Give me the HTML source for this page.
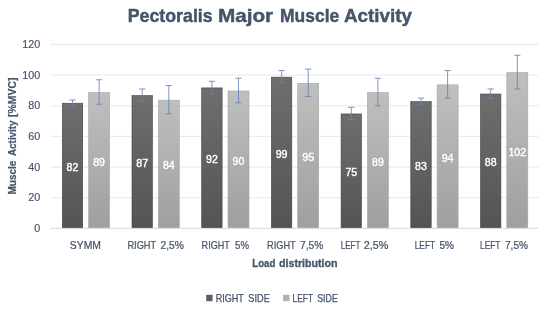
<!DOCTYPE html>
<html lang="en"><head><meta charset="utf-8"><title>Pectoralis Major Muscle Activity</title>
<style>html,body{margin:0;padding:0;background:#fff;}body{width:550px;height:309px;overflow:hidden;}svg{display:block;}text{font-family:"Liberation Sans",sans-serif;}</style>
</head><body>
<svg width="550" height="309" viewBox="0 0 550 309">
<defs>
<linearGradient id="gd" x1="0" y1="0" x2="0" y2="1"><stop offset="0" stop-color="#6e6e6e"/><stop offset="1" stop-color="#545454"/></linearGradient>
<linearGradient id="gl" x1="0" y1="0" x2="0" y2="1"><stop offset="0" stop-color="#bfbfbf"/><stop offset="1" stop-color="#9f9f9f"/></linearGradient>
</defs>
<rect width="550" height="309" fill="#ffffff"/>
<line x1="50.5" x2="538.5" y1="197.71" y2="197.71" stroke="#e9ecf3" stroke-width="1.3"/>
<line x1="50.5" x2="538.5" y1="167.07" y2="167.07" stroke="#e9ecf3" stroke-width="1.3"/>
<line x1="50.5" x2="538.5" y1="136.43" y2="136.43" stroke="#e9ecf3" stroke-width="1.3"/>
<line x1="50.5" x2="538.5" y1="105.79" y2="105.79" stroke="#e9ecf3" stroke-width="1.3"/>
<line x1="50.5" x2="538.5" y1="75.15" y2="75.15" stroke="#e9ecf3" stroke-width="1.3"/>
<line x1="50.5" x2="538.5" y1="44.51" y2="44.51" stroke="#e9ecf3" stroke-width="1.3"/>
<line x1="50.5" x2="538.5" y1="228.35" y2="228.35" stroke="#dddddd" stroke-width="1.1"/>
<text x="127.69999999999999" y="21.8" font-size="18.6" font-weight="bold" fill="#44546a" stroke="#44546a" stroke-width="0.45" textLength="85.0" lengthAdjust="spacingAndGlyphs">Pectoralis</text>
<text x="217.9" y="21.8" font-size="18.6" font-weight="bold" fill="#44546a" stroke="#44546a" stroke-width="0.45" textLength="55.3" lengthAdjust="spacingAndGlyphs">Major</text>
<text x="280.0" y="21.8" font-size="18.6" font-weight="bold" fill="#44546a" stroke="#44546a" stroke-width="0.45" textLength="59.2" lengthAdjust="spacingAndGlyphs">Muscle</text>
<text x="344.0" y="21.8" font-size="18.6" font-weight="bold" fill="#44546a" stroke="#44546a" stroke-width="0.45" textLength="67.9" lengthAdjust="spacingAndGlyphs">Activity</text>
<text x="34.2" y="232.05" font-size="10.2" fill="#44546a" stroke="#44546a" stroke-width="0.15" textLength="6.0" lengthAdjust="spacingAndGlyphs">0</text>
<text x="28.2" y="201.41" font-size="10.2" fill="#44546a" stroke="#44546a" stroke-width="0.15" textLength="12.0" lengthAdjust="spacingAndGlyphs">20</text>
<text x="28.2" y="170.77" font-size="10.2" fill="#44546a" stroke="#44546a" stroke-width="0.15" textLength="12.0" lengthAdjust="spacingAndGlyphs">40</text>
<text x="28.2" y="140.13" font-size="10.2" fill="#44546a" stroke="#44546a" stroke-width="0.15" textLength="12.0" lengthAdjust="spacingAndGlyphs">60</text>
<text x="28.2" y="109.49" font-size="10.2" fill="#44546a" stroke="#44546a" stroke-width="0.15" textLength="12.0" lengthAdjust="spacingAndGlyphs">80</text>
<text x="22.2" y="78.85" font-size="10.2" fill="#44546a" stroke="#44546a" stroke-width="0.15" textLength="18.0" lengthAdjust="spacingAndGlyphs">100</text>
<text x="22.2" y="48.21" font-size="10.2" fill="#44546a" stroke="#44546a" stroke-width="0.15" textLength="18.0" lengthAdjust="spacingAndGlyphs">120</text>
<text transform="translate(15.7,194.5) rotate(-90)" font-size="11.3" font-weight="bold" fill="#44546a" stroke="#44546a" stroke-width="0.2" textLength="33.8" lengthAdjust="spacingAndGlyphs">Muscle</text>
<text transform="translate(15.7,156.0) rotate(-90)" font-size="11.3" font-weight="bold" fill="#44546a" stroke="#44546a" stroke-width="0.2" textLength="35.6" lengthAdjust="spacingAndGlyphs">Activity</text>
<text transform="translate(15.7,117.0) rotate(-90)" font-size="11.3" font-weight="bold" fill="#44546a" stroke="#44546a" stroke-width="0.2" textLength="39.4" lengthAdjust="spacingAndGlyphs">[%MVC]</text>
<rect x="62.30" y="103.23" width="20.40" height="124.42" fill="url(#gd)" stroke="#404040" stroke-width="0.6"/>
<path d="M72.50 99.97V105.48M69.40 99.97h6.2M69.40 105.48h6.2" stroke="#6684b5" stroke-width="0.85" fill="none"/>
<text x="66.60" y="170.94" font-size="10.8" fill="#ffffff" stroke="#ffffff" stroke-width="0.4" textLength="11.8" lengthAdjust="spacingAndGlyphs">82</text>
<rect x="88.60" y="92.50" width="21.00" height="135.15" fill="url(#gl)" stroke="#a6a6a6" stroke-width="0.6"/>
<path d="M99.10 79.75V104.26M96.00 79.75h6.2M96.00 104.26h6.2" stroke="#6684b5" stroke-width="0.85" fill="none"/>
<text x="93.20" y="165.58" font-size="10.8" fill="#ffffff" stroke="#ffffff" stroke-width="0.4" textLength="11.8" lengthAdjust="spacingAndGlyphs">89</text>
<rect x="132.00" y="95.57" width="20.40" height="132.08" fill="url(#gd)" stroke="#404040" stroke-width="0.6"/>
<path d="M142.20 88.94V101.19M139.10 88.94h6.2M139.10 101.19h6.2" stroke="#6684b5" stroke-width="0.85" fill="none"/>
<text x="136.30" y="167.11" font-size="10.8" fill="#ffffff" stroke="#ffffff" stroke-width="0.4" textLength="11.8" lengthAdjust="spacingAndGlyphs">87</text>
<rect x="158.30" y="100.16" width="21.00" height="127.49" fill="url(#gl)" stroke="#a6a6a6" stroke-width="0.6"/>
<path d="M168.80 85.57V113.76M165.70 85.57h6.2M165.70 113.76h6.2" stroke="#6684b5" stroke-width="0.85" fill="none"/>
<text x="162.90" y="169.41" font-size="10.8" fill="#ffffff" stroke="#ffffff" stroke-width="0.4" textLength="11.8" lengthAdjust="spacingAndGlyphs">84</text>
<rect x="201.70" y="87.91" width="20.40" height="139.74" fill="url(#gd)" stroke="#404040" stroke-width="0.6"/>
<path d="M211.90 81.28V93.53M208.80 81.28h6.2M208.80 93.53h6.2" stroke="#6684b5" stroke-width="0.85" fill="none"/>
<text x="206.00" y="163.28" font-size="10.8" fill="#ffffff" stroke="#ffffff" stroke-width="0.4" textLength="11.8" lengthAdjust="spacingAndGlyphs">92</text>
<rect x="228.00" y="90.97" width="21.00" height="136.68" fill="url(#gl)" stroke="#a6a6a6" stroke-width="0.6"/>
<path d="M238.50 78.21V102.73M235.40 78.21h6.2M235.40 102.73h6.2" stroke="#6684b5" stroke-width="0.85" fill="none"/>
<text x="232.60" y="164.81" font-size="10.8" fill="#ffffff" stroke="#ffffff" stroke-width="0.4" textLength="11.8" lengthAdjust="spacingAndGlyphs">90</text>
<rect x="271.40" y="77.18" width="20.40" height="150.47" fill="url(#gd)" stroke="#404040" stroke-width="0.6"/>
<path d="M281.60 70.55V82.81M278.50 70.55h6.2M278.50 82.81h6.2" stroke="#6684b5" stroke-width="0.85" fill="none"/>
<text x="275.70" y="157.92" font-size="10.8" fill="#ffffff" stroke="#ffffff" stroke-width="0.4" textLength="11.8" lengthAdjust="spacingAndGlyphs">99</text>
<rect x="297.70" y="83.31" width="21.00" height="144.34" fill="url(#gl)" stroke="#a6a6a6" stroke-width="0.6"/>
<path d="M308.20 69.02V96.60M305.10 69.02h6.2M305.10 96.60h6.2" stroke="#6684b5" stroke-width="0.85" fill="none"/>
<text x="302.30" y="160.98" font-size="10.8" fill="#ffffff" stroke="#ffffff" stroke-width="0.4" textLength="11.8" lengthAdjust="spacingAndGlyphs">95</text>
<rect x="341.10" y="113.95" width="20.40" height="113.70" fill="url(#gd)" stroke="#404040" stroke-width="0.6"/>
<path d="M351.30 107.32V119.58M348.20 107.32h6.2M348.20 119.58h6.2" stroke="#6684b5" stroke-width="0.85" fill="none"/>
<text x="345.40" y="176.30" font-size="10.8" fill="#ffffff" stroke="#ffffff" stroke-width="0.4" textLength="11.8" lengthAdjust="spacingAndGlyphs">75</text>
<rect x="367.40" y="92.50" width="21.00" height="135.15" fill="url(#gl)" stroke="#a6a6a6" stroke-width="0.6"/>
<path d="M377.90 78.21V105.79M374.80 78.21h6.2M374.80 105.79h6.2" stroke="#6684b5" stroke-width="0.85" fill="none"/>
<text x="372.00" y="165.58" font-size="10.8" fill="#ffffff" stroke="#ffffff" stroke-width="0.4" textLength="11.8" lengthAdjust="spacingAndGlyphs">89</text>
<rect x="410.80" y="101.69" width="20.40" height="125.96" fill="url(#gd)" stroke="#404040" stroke-width="0.6"/>
<path d="M421.00 98.13V104.26M417.90 98.13h6.2M417.90 104.26h6.2" stroke="#6684b5" stroke-width="0.85" fill="none"/>
<text x="415.10" y="170.17" font-size="10.8" fill="#ffffff" stroke="#ffffff" stroke-width="0.4" textLength="11.8" lengthAdjust="spacingAndGlyphs">83</text>
<rect x="437.10" y="84.84" width="21.00" height="142.81" fill="url(#gl)" stroke="#a6a6a6" stroke-width="0.6"/>
<path d="M447.60 70.55V98.13M444.50 70.55h6.2M444.50 98.13h6.2" stroke="#6684b5" stroke-width="0.85" fill="none"/>
<text x="441.70" y="161.75" font-size="10.8" fill="#ffffff" stroke="#ffffff" stroke-width="0.4" textLength="11.8" lengthAdjust="spacingAndGlyphs">94</text>
<rect x="480.50" y="94.03" width="20.40" height="133.62" fill="url(#gd)" stroke="#404040" stroke-width="0.6"/>
<path d="M490.70 88.94V98.13M487.60 88.94h6.2M487.60 98.13h6.2" stroke="#6684b5" stroke-width="0.85" fill="none"/>
<text x="484.80" y="166.34" font-size="10.8" fill="#ffffff" stroke="#ffffff" stroke-width="0.4" textLength="11.8" lengthAdjust="spacingAndGlyphs">88</text>
<rect x="506.80" y="72.59" width="21.00" height="155.06" fill="url(#gl)" stroke="#a6a6a6" stroke-width="0.6"/>
<path d="M517.30 55.23V88.94M514.20 55.23h6.2M514.20 88.94h6.2" stroke="#6684b5" stroke-width="0.85" fill="none"/>
<text x="508.45" y="155.62" font-size="10.8" fill="#ffffff" stroke="#ffffff" stroke-width="0.4" textLength="17.7" lengthAdjust="spacingAndGlyphs">102</text>
<text x="69.8" y="248.5" font-size="10.1" fill="#44546a" stroke="#44546a" stroke-width="0.22" textLength="31.1" lengthAdjust="spacingAndGlyphs">SYMM</text>
<text x="127.4" y="248.5" font-size="10.1" fill="#44546a" stroke="#44546a" stroke-width="0.22" textLength="28.8" lengthAdjust="spacingAndGlyphs">RIGHT</text>
<text x="160.5" y="248.5" font-size="10.1" fill="#44546a" stroke="#44546a" stroke-width="0.22" textLength="23.3" lengthAdjust="spacingAndGlyphs">2,5%</text>
<text x="201.6" y="248.5" font-size="10.1" fill="#44546a" stroke="#44546a" stroke-width="0.22" textLength="28.2" lengthAdjust="spacingAndGlyphs">RIGHT</text>
<text x="235.1" y="248.5" font-size="10.1" fill="#44546a" stroke="#44546a" stroke-width="0.22" textLength="13.9" lengthAdjust="spacingAndGlyphs">5%</text>
<text x="267.1" y="248.5" font-size="10.1" fill="#44546a" stroke="#44546a" stroke-width="0.22" textLength="28.5" lengthAdjust="spacingAndGlyphs">RIGHT</text>
<text x="300.0" y="248.5" font-size="10.1" fill="#44546a" stroke="#44546a" stroke-width="0.22" textLength="23.2" lengthAdjust="spacingAndGlyphs">7,5%</text>
<text x="340.7" y="248.5" font-size="10.1" fill="#44546a" stroke="#44546a" stroke-width="0.22" textLength="19.8" lengthAdjust="spacingAndGlyphs">LEFT</text>
<text x="363.8" y="248.5" font-size="10.1" fill="#44546a" stroke="#44546a" stroke-width="0.22" textLength="24.7" lengthAdjust="spacingAndGlyphs">2,5%</text>
<text x="414.7" y="248.5" font-size="10.1" fill="#44546a" stroke="#44546a" stroke-width="0.22" textLength="20.4" lengthAdjust="spacingAndGlyphs">LEFT</text>
<text x="439.4" y="248.5" font-size="10.1" fill="#44546a" stroke="#44546a" stroke-width="0.22" textLength="14.5" lengthAdjust="spacingAndGlyphs">5%</text>
<text x="480.0" y="248.5" font-size="10.1" fill="#44546a" stroke="#44546a" stroke-width="0.22" textLength="20.4" lengthAdjust="spacingAndGlyphs">LEFT</text>
<text x="505.0" y="248.5" font-size="10.1" fill="#44546a" stroke="#44546a" stroke-width="0.22" textLength="23.0" lengthAdjust="spacingAndGlyphs">7,5%</text>
<text x="252.3" y="266.7" font-size="11.3" font-weight="bold" fill="#44546a" stroke="#44546a" stroke-width="0.3" textLength="23.1" lengthAdjust="spacingAndGlyphs">Load</text>
<text x="279.0" y="266.7" font-size="11.3" font-weight="bold" fill="#44546a" stroke="#44546a" stroke-width="0.3" textLength="58.6" lengthAdjust="spacingAndGlyphs">distribution</text>
<rect x="206.2" y="294.8" width="6.4" height="6.4" fill="#5f5f5f"/>
<rect x="283.1" y="294.8" width="6.4" height="6.4" fill="#b0b0b0"/>
<text x="215.7" y="302.1" font-size="10.1" fill="#44546a" stroke="#44546a" stroke-width="0.25" textLength="28.2" lengthAdjust="spacingAndGlyphs">RIGHT</text>
<text x="248.3" y="302.1" font-size="10.1" fill="#44546a" stroke="#44546a" stroke-width="0.25" textLength="21.5" lengthAdjust="spacingAndGlyphs">SIDE</text>
<text x="292.5" y="302.1" font-size="10.1" fill="#44546a" stroke="#44546a" stroke-width="0.25" textLength="20.6" lengthAdjust="spacingAndGlyphs">LEFT</text>
<text x="317.2" y="302.1" font-size="10.1" fill="#44546a" stroke="#44546a" stroke-width="0.25" textLength="20.6" lengthAdjust="spacingAndGlyphs">SIDE</text>
</svg></body></html>
